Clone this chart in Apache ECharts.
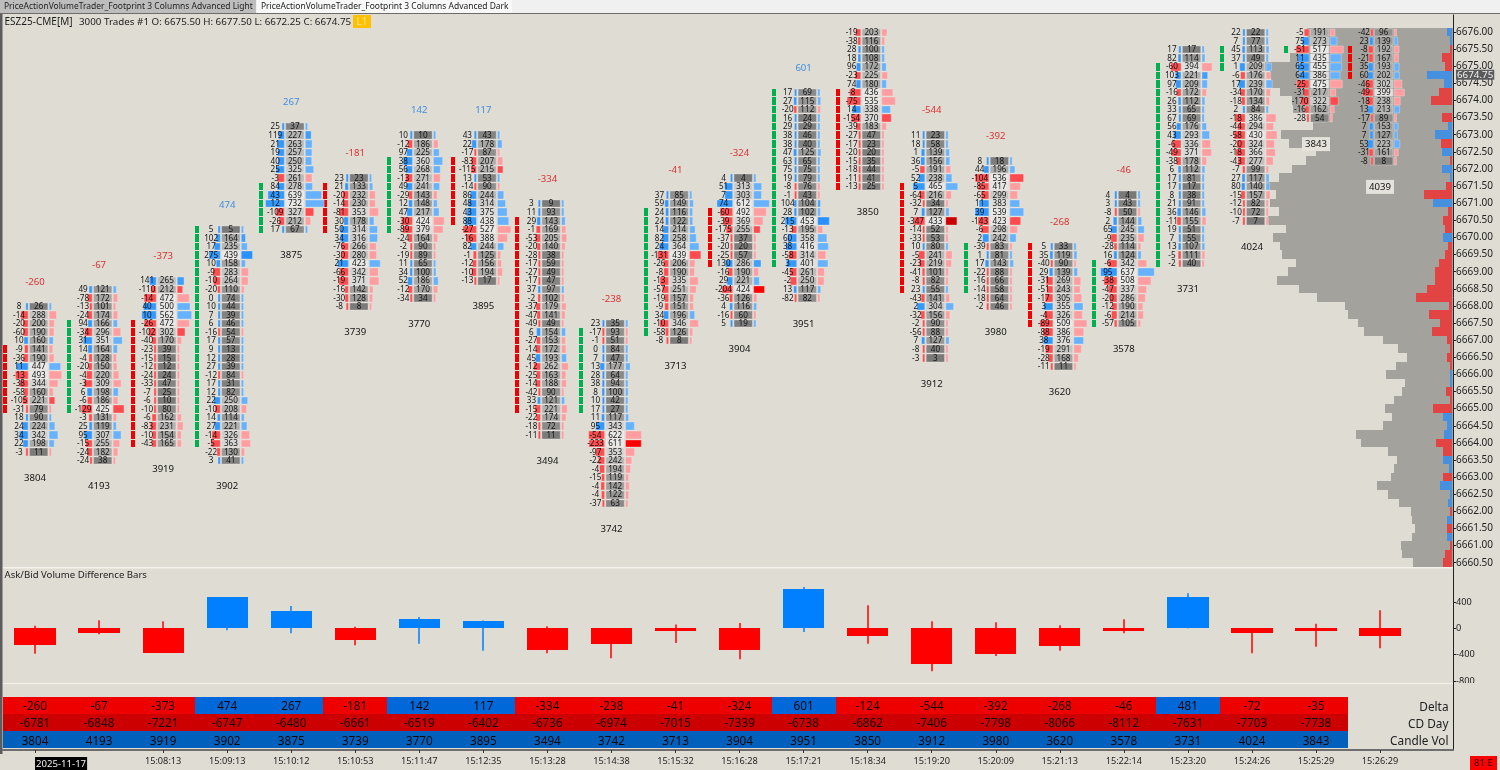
<!DOCTYPE html>
<html>
<head>
<meta charset="utf-8">
<title>ESZ25-CME footprint</title>
<style>html,body{margin:0;padding:0;background:#dfdcd4}#chart{width:1500px;height:770px}</style>
<script src="https://cdn.jsdelivr.net/npm/echarts@6/dist/echarts.min.js"></script>
</head>
<body>
<div id="chart"></div>
<script>
// Footprint rows per candle: top price of the first visible row, then delta and volume per 0.25 tick
const rowTops = [6668,6668.5,6668.75,6670.25,6673.25,6671.75,6673,6673,6671,6667.5,6671.25,6671.75,6674.25,6676,6673,6672.25,6669.75,6671.25,6675.5,6676,6676,6676];
const rowDeltas = [
  [8,-14,-20,-60,10,-9,-36,11,-13,-38,-58,-105,-31,18,24,34,22,-3],
  [49,-78,-13,-24,94,-34,31,14,-4,-20,-4,-3,6,-6,-129,-3,25,95,-15,-24,-24],
  [141,-110,-14,40,10,-26,-102,-40,-23,-15,-12,-24,-33,-7,-6,-10,-6,-83,-10,-43],
  [5,102,17,275,10,-9,-10,-20,0,10,7,6,-16,17,9,12,27,-12,17,12,22,-10,14,27,-14,-5,-22,3],
  [25,119,21,19,40,25,-3,84,43,12,-109,-26,17],
  [23,21,-20,-14,-81,30,50,34,-76,-30,21,-66,-19,-16,-30,-8],
  [10,-12,97,38,56,-13,49,-29,12,47,-30,-89,-24,-2,-19,11,34,52,-12,-34],
  [43,22,-17,-83,-115,13,-14,86,48,43,88,-27,-16,82,-1,-12,-10,-13],
  [3,11,29,-1,-53,-20,-28,-17,-27,-17,37,-2,-37,-47,-49,6,-27,-14,45,-12,-25,-14,-42,33,-15,-22,-18,-11],
  [23,-17,-1,0,7,13,28,38,8,10,17,11,95,-54,-233,-97,-22,-4,-15,-4,-4,-37],
  [37,59,24,24,14,82,24,-131,-26,-8,-13,-57,-19,-9,34,-10,-58,-8],
  [4,51,7,74,-60,-39,-175,-37,-20,-25,130,-16,29,-204,-36,4,-16,5],
  [17,27,-20,16,29,38,38,47,63,75,19,-8,-1,104,28,215,-13,60,38,-58,3,-45,-2,13,-82],
  [-19,-38,28,18,96,-23,74,-8,-75,14,-154,-39,-27,-17,-20,-15,-18,-11,-13],
  [11,18,1,36,-5,52,5,-64,-32,7,-347,-14,-33,10,-5,-23,-41,-8,23,-43,2,-32,-2,-56,7,-8,-3],
  [8,44,-104,-85,-65,11,39,-143,-6,2,-39,1,17,-22,-16,-14,-18,-2],
  [5,35,-40,29,-31,-51,-17,3,-4,-89,-88,38,-19,-28,-11],
  [4,3,-8,2,65,-9,-28,16,-6,95,-38,-47,-20,-12,-6,-57],
  [17,82,-60,103,97,-16,26,33,67,56,43,-6,-49,-38,6,17,17,8,21,36,-11,19,7,13,-5,-2],
  [22,7,45,37,1,-6,17,-34,-18,2,-18,-44,-58,-20,-18,-43,-7,27,80,-15,-12,-10,-7],
  [-5,75,-51,11,65,64,-25,-31,-170,-16,-28],
  [-42,23,-8,-21,35,60,-46,-49,-18,13,-17,7,7,53,-31,-8]
];
const rowVolumes = [
  [26,288,200,190,160,141,190,447,493,344,160,221,79,90,224,342,198,11],
  [121,172,101,174,166,296,351,164,128,150,220,309,198,186,425,131,119,307,255,182,38],
  [265,212,472,500,562,472,302,170,39,15,12,24,47,25,10,80,162,231,154,165],
  [5,164,235,439,158,283,264,110,74,44,39,46,54,57,13,28,39,84,31,82,250,208,114,221,326,363,130,41],
  [37,227,263,257,250,325,261,278,639,732,327,212,67],
  [23,133,232,230,353,178,314,316,266,280,423,342,371,142,128,8],
  [10,186,225,360,268,271,241,143,148,217,424,379,164,90,89,65,100,186,170,34],
  [43,178,87,207,215,53,90,244,314,375,438,527,388,244,125,156,194,17],
  [9,93,143,169,205,140,38,59,49,47,97,102,179,141,49,154,153,172,193,262,163,188,90,121,221,174,72,11],
  [35,93,51,84,47,177,64,94,100,42,27,117,343,622,611,353,242,194,119,142,122,63],
  [85,149,116,122,214,258,364,439,206,190,335,251,157,151,196,346,126,8],
  [4,313,303,612,492,369,255,37,20,57,286,190,221,424,126,116,60,19],
  [69,115,112,24,29,46,40,125,65,75,79,76,43,104,102,453,195,358,416,314,401,261,250,117,82],
  [203,116,100,108,172,225,180,436,535,338,370,183,47,23,20,35,44,41,25],
  [23,58,139,156,191,238,465,216,34,127,433,52,53,80,241,219,101,82,55,141,304,156,90,88,127,40,3],
  [18,196,536,417,299,383,539,423,298,242,83,81,143,88,66,58,64,46],
  [33,119,90,139,269,243,305,355,326,509,386,376,291,168,11],
  [4,43,50,144,245,235,114,124,342,637,508,337,286,190,214,105],
  [17,114,394,221,209,172,112,65,69,176,293,336,371,178,112,81,17,38,91,146,155,51,55,107,111,40],
  [22,77,113,49,209,176,239,170,134,84,386,294,430,324,366,277,99,117,140,157,82,72,7],
  [191,273,517,435,455,386,475,217,322,162,54],
  [96,139,192,167,193,202,302,399,238,213,89,153,127,223,161,8]
];

// Candle body beside each footprint: upper price, lower price, direction
const bodyTops = [6666.75,6667.5,6667.5,6670.25,6671.5,6671.5,6672.25,6672.25,6670.5,6667.25,6670.75,6670.75,6674.25,6674.25,6671.5,6669.75,6669.75,6669.25,6675,6675.5,6675.5,6675.5];
const bodyBottoms = [6665,6665,6664,6664,6670.25,6670.25,6670.25,6670.5,6665,6665,6667.25,6669.25,6669.25,6671.5,6668.5,6668.5,6667.5,6667.5,6669.25,6675,6675.5,6674.75];
const bodyUp = [0,1,0,1,1,0,1,0,0,1,1,0,1,0,0,1,0,1,1,1,1,0];

// Per-candle totals
const candleDelta = [-260,-67,-373,474,267,-181,142,117,-334,-238,-41,-324,601,-124,-544,-392,-268,-46,481,-72,-35,-111];
const cdDay = [-6781,-6848,-7221,-6747,-6480,-6661,-6519,-6402,-6736,-6974,-7015,-7339,-6738,-6862,-7406,-7798,-8066,-8112,-7631,-7703,-7738];
const candleVol = [3804,4193,3919,3902,3875,3739,3770,3895,3494,3742,3713,3904,3951,3850,3912,3980,3620,3578,3731,4024,3843,4039];
const deltaHigh = [40,122,106,474,340,25,172,117,30,0,56,81,629,350,106,91,45,137,532,0,71,274];
const deltaLow = [-385,-91,-373,-30,-76,-258,-233,-340,-380,-456,-223,-471,-56,-233,-654,-420,-340,-76,0,-380,-279,-304];

// Session volume profile, one value per tick from 6676.00 down to 6660.50
const profileVolume = [5840,5840,5840,6520,7520,7320,7280,6920,6440,6400,5600,5600,6880,6560,5480,5880,6440,6960,7480,7080,7320,6960,7400,6680,7200,6920,6840,6280,6600,7040,6160,5440,4320,4200,3800,3560,2800,2200,1840,2280,2680,1920,2040,2360,2720,2440,2800,3880,3680,2600,2240,2360,2480,3040,2600,2160,1680,1640,1520,1640,2080,2040,1600];
const profileDelta = [200,92,-92,-388,-292,1012,320,-532,-852,0,-388,160,692,-440,412,-92,388,92,-228,-1132,772,-148,-348,-292,372,-160,-292,-508,-692,-692,-988,-1428,-120,-920,-480,-800,-188,-92,-212,-92,92,92,-252,-92,-748,372,212,308,-652,-348,348,132,-348,468,92,160,-92,188,-188,188,-92,-280,-372];

const timeLabels = ['2025-11-17','','15:08:13','15:09:13','15:10:12','15:10:53','15:11:47','15:12:35','15:13:28','15:14:38','15:15:32','15:16:28','15:17:21','15:18:34','15:19:20','15:20:09','15:21:13','15:22:14','15:23:20','15:24:26','15:25:29','15:26:29'];
const priceTicks = [6676,6675.5,6675,6674.5,6674,6673.5,6673,6672.5,6672,6671.5,6671,6670.5,6670,6669.5,6669,6668.5,6668,6667.5,6667,6666.5,6666,6665.5,6665,6664.5,6664,6663.5,6663,6662.5,6662,6661.5,6661,6660.5];
const deltaTicks = [400,0,-400,-800];
const tableRowNames = ['Delta','CD Day','Candle Vol'];
const lastPrice = 6674.75;

const FONT = '"Noto Sans", sans-serif';
const BG = '#dfdcd4';
const TEXT = '#141414';
const TICK = 0.25;

const footprintRows = [];
rowDeltas.forEach((deltas, bar) => deltas.forEach((d, k) => {
  footprintRows.push([bar, rowTops[bar] - k * TICK, d, rowVolumes[bar][k]]);
}));
const bodyRows = [];
bodyTops.forEach((top, bar) => {
  for (let p = top; p >= bodyBottoms[bar]; p -= TICK) bodyRows.push([bar, p, bodyUp[bar]]);
});
const profileRows = profileVolume.map((v, k) => [v, 6676 - k * TICK]);
const profileDeltaRows = profileDelta.map((v, k) => [Math.abs(v), 6676 - k * TICK, v]);

const cellGray = v => {
  const g = Math.round(120 + Math.min(v, 430) * 0.26);
  return `rgb(${g},${g},${g-1})`;
};
const sideColor = d => {
  const a = Math.abs(d);
  if (d >= 0) return a >= 200 ? '#2a90ff' : a >= 100 ? '#3f9fff' : '#66b2ff';
  return a >= 300 ? '#cc0000' : a >= 200 ? '#ff0000' : a >= 100 ? '#ff4a4f' : '#ff9da1';
};
const rectEl = (x, y, w, h, fill, stroke) => ({
  type: 'rect', shape: { x, y, width: w, height: h },
  style: { fill, stroke: stroke || null, lineWidth: stroke ? 1 : 0 }
});
// Rectangle snapped to whole pixels so neighbouring cells join without seams
const snapRect = (x0, y0, x1, y1, fill) => {
  const l = Math.round(x0), t = Math.round(y0);
  return rectEl(l, t, Math.round(x1) - l, Math.round(y1) - t, fill);
};
const textEl = (x, y, text, size, fill, align, extra) => ({
  type: 'text',
  style: Object.assign({ x, y, text: String(text), fontSize: size, fontFamily: FONT, fill, align: align || 'center', verticalAlign: 'middle' }, extra || {})
});
// Condensed number used inside the footprint rows
const rowText = (x, y, text) => ({
  type: 'text', x, y, scaleX: 0.84,
  style: { x: 0, y: 0, text: String(text), fontSize: 9.7, fontFamily: FONT, fill: TEXT, align: 'center', verticalAlign: 'middle' }
});

// One footprint row: delta bar and number, shaded volume cell, volume bar
function renderRow(params, api) {
  const bar = api.value(0), price = api.value(1), d = api.value(2), v = api.value(3);
  const [cx, cy] = api.coord([bar, price]);
  const size = api.size([0, TICK])[1];
  const top = Math.round(cy - size / 2) + 1;
  const h = Math.round(cy + size / 2) - top;
  const w = Math.max(2.3, v / 39);
  const c = d >= 0 ? '#3399ff' : '#ff4d50';
  return {
    type: 'group',
    children: [
      rectEl(cx - 6.9 - w, top, w, h, c, 'rgba(238,236,230,0.35)'),
      rectEl(cx - 5.5, top, 18.3, h, cellGray(v), 'rgba(235,233,228,0.35)'),
      rectEl(cx + 14.1, top, w, h, sideColor(d), 'rgba(238,236,230,0.35)'),
      rowText(cx - 16, cy + 0.5, d),
      rowText(cx + 3.7, cy + 0.5, v)
    ]
  };
}
function renderBody(params, api) {
  const [cx, cy] = api.coord([api.value(0), api.value(1)]);
  const size = api.size([0, TICK])[1];
  const top = Math.round(cy - size / 2) + 1;
  return rectEl(Math.round(cx - 32), top, 4, Math.round(cy + size / 2) - top, api.value(2) ? '#00b050' : '#f00000');
}
// Totals written above and below each footprint
function renderTotals(params, api) {
  const bar = api.value(0);
  const x = api.coord([bar, 0])[0];
  const rows = rowDeltas[bar].length;
  const top = rowTops[bar];
  const yTop = api.coord([0, top])[1] - 24;
  const yBot = api.coord([0, top - (rows - 1) * TICK])[1] + 26.5;
  const d = candleDelta[bar];
  const kids = [];
  if (top + 0.7 <= 6676.1) kids.push(textEl(x, yTop, d, 9.6, d >= 0 ? '#3f8fe0' : '#dc3232'));
  const box = bar >= 20 ? { backgroundColor: '#e4e2da', padding: [2, 3, 2, 3] } : {};
  kids.push(textEl(x, yBot, candleVol[bar], 9.6, TEXT, 'center', box));
  return { type: 'group', children: kids };
}
function renderProfile(params, api) {
  const [x, y] = api.coord([api.value(0), api.value(1)]);
  const right = api.coord([0, 0])[0];
  const h = api.size([0, TICK])[1];
  return snapRect(x, y - h / 2, right, y + h / 2, '#a4a29d');
}
function renderProfileDelta(params, api) {
  const [x, y] = api.coord([api.value(0), api.value(1)]);
  const right = api.coord([0, 0])[0] - 1;
  const h = api.size([0, TICK])[1];
  return snapRect(x - 1, y - h / 2, right, y + h / 2, api.value(2) >= 0 ? '#4690e0' : '#e24444');
}
function renderLast(params, api) {
  const y = api.coord([0, api.value(0)])[1];
  return textEl(params.coordSys.x + params.coordSys.width + 3, y, api.value(0).toFixed(2), 9.8, '#f0f0f0', 'left', {
    backgroundColor: '#5a5a5a', padding: [0, 1, 0, 1]
  });
}
// Lower pane: body runs from zero to the candle's delta, wick spans its extreme values
function renderDiff(params, api) {
  const bar = api.value(0), d = api.value(1);
  const x = api.coord([bar, 0])[0];
  const y0 = api.coord([bar, 0])[1];
  const y1 = api.coord([bar, d])[1];
  const yh = api.coord([bar, api.value(2)])[1];
  const yl = api.coord([bar, api.value(3)])[1];
  const c = d >= 0 ? '#0080ff' : '#ff0000';
  return {
    type: 'group',
    children: [
      rectEl(Math.round(x) - 0.75, yh, 1.5, yl - yh, c),
      snapRect(x - 20.6, Math.min(y0, y1), x + 20.6, Math.max(y0, y1), c)
    ]
  };
}
// Summary table under the panes, rows counted from the top
function renderTable(params, api) {
  const bar = api.value(0);
  const kids = [];
  const cols = [
    [candleDelta[bar], candleDelta[bar] >= 0 ? '#0068d8' : '#ef0000'],
    [cdDay[bar], '#cc0000'],
    [candleVol[bar], '#0060bb']
  ];
  const l = api.coord([bar - 0.5, 0])[0], r = api.coord([bar + 0.5, 0])[0];
  cols.forEach((col, k) => {
    const yTop = api.coord([0, k])[1], yBot = api.coord([0, k + 1])[1];
    kids.push(snapRect(l, yTop, r, yBot, col[1]));
    kids.push(textEl((l + r) / 2, (yTop + yBot) / 2 + 1.5, col[0], 11.7, '#120808'));
  });
  return { type: 'group', children: kids };
}
function renderRowNames(params, api) {
  const k = api.value(0);
  const y = (api.coord([0, k])[1] + api.coord([0, k + 1])[1]) / 2;
  return textEl(1448.5, y + 2, tableRowNames[k], 11.8, '#222222', 'right');
}

const xRange = { min: -0.5, max: 22.139 };
const hiddenX = g => Object.assign({ type: 'value', gridIndex: g, show: false }, xRange);

const option = {
  animation: false,
  backgroundColor: BG,
  textStyle: { fontFamily: FONT },
  grid: [
    { left: 3, right: 47, top: 14.88, height: 564.96 },
    { left: 3, right: 47, top: 549.34, height: 157.92 },
    { left: 3, right: 47, top: 697, height: 56 }
  ],
  xAxis: [
    hiddenX(0),
    { type: 'value', gridIndex: 0, show: false, inverse: true, min: 0, max: 58000 },
    hiddenX(1),
    Object.assign({
      type: 'value', gridIndex: 2, position: 'bottom', splitLine: { show: false },
      axisLine: { onZero: false, lineStyle: { color: '#6e6e6e', width: 2 } },
      axisTick: { length: 3, lineStyle: { color: '#333' }, customValues: timeLabels.map((t, i) => t ? i : null).filter(i => i !== null) },
      axisLabel: {
        customValues: timeLabels.map((t, i) => t ? i : null).filter(i => i !== null),
        formatter: v => timeLabels[v] === '2025-11-17' ? '{date|2025-11-17}' : timeLabels[v],
        alignMinLabel: 'left', hideOverlap: false,
        fontSize: 9.2, fontFamily: FONT, color: '#262626', margin: 7,
        rich: { date: { backgroundColor: '#000', color: '#eee', fontSize: 9.6, fontFamily: FONT, padding: [2, 1, 1, 1] } }
      }
    }, xRange)
  ],
  yAxis: [
    {
      type: 'value', gridIndex: 0, position: 'right', min: 6660, max: 6676.5, splitLine: { show: false },
      axisLine: { show: true, onZero: false, lineStyle: { color: '#222' } },
      axisTick: { show: true, length: 3, customValues: priceTicks, lineStyle: { color: '#222' } },
      axisLabel: { customValues: priceTicks, showMinLabel: true, showMaxLabel: true, formatter: v => v.toFixed(2), fontSize: 10, fontFamily: FONT, color: '#222', margin: 3 }
    },
    {
      type: 'value', gridIndex: 1, position: 'right', min: -1200, max: 1200, splitLine: { show: false },
      axisLine: { show: true, onZero: false, lineStyle: { color: '#222' } },
      axisTick: { show: true, length: 3, customValues: deltaTicks, lineStyle: { color: '#222' } },
      axisLabel: { customValues: deltaTicks, fontSize: 9.2, fontFamily: FONT, color: '#222', margin: 3 }
    },
    {
      type: 'value', gridIndex: 2, position: 'right', inverse: true, min: 0, max: 3.1, splitLine: { show: false },
      axisLine: { show: true, onZero: false, lineStyle: { color: '#222' } },
      axisTick: { show: false }, axisLabel: { show: false }
    }
  ],
  series: [
    { type: 'custom', name: 'Session volume', xAxisIndex: 1, yAxisIndex: 0, z: 1, data: profileRows, encode: { x: 0, y: 1 }, renderItem: renderProfile, silent: true },
    { type: 'custom', name: 'Session delta', xAxisIndex: 1, yAxisIndex: 0, z: 1.5, data: profileDeltaRows, encode: { x: 0, y: 1 }, renderItem: renderProfileDelta, silent: true },
    { type: 'custom', name: 'Candle body', xAxisIndex: 0, yAxisIndex: 0, z: 2, data: bodyRows, encode: { x: 0, y: 1 }, renderItem: renderBody, silent: true },
    { type: 'custom', name: 'Footprint', xAxisIndex: 0, yAxisIndex: 0, z: 3, data: footprintRows, encode: { x: 0, y: 1 }, renderItem: renderRow, silent: true },
    { type: 'custom', name: 'Totals', xAxisIndex: 0, yAxisIndex: 0, z: 4, data: candleVol.map((v, i) => [i, v]), encode: { x: 0 }, renderItem: renderTotals, silent: true },
    { type: 'custom', name: 'Last price', xAxisIndex: 0, yAxisIndex: 0, z: 6, data: [[lastPrice]], encode: { y: 0 }, renderItem: renderLast, silent: true },
    { type: 'custom', name: 'Ask/Bid Volume Difference', xAxisIndex: 2, yAxisIndex: 1, z: 3, data: candleDelta.map((d, i) => [i, d, deltaHigh[i], deltaLow[i]]), encode: { x: 0, y: 1 }, renderItem: renderDiff, silent: true },
    { type: 'custom', name: 'Table', xAxisIndex: 3, yAxisIndex: 2, z: 3, data: cdDay.map((d, i) => [i, d]), encode: { x: 0 }, renderItem: renderTable, silent: true },
    { type: 'custom', name: 'Table rows', xAxisIndex: 3, yAxisIndex: 2, z: 3, data: tableRowNames.map((n, k) => [k]), encode: { y: 0 }, renderItem: renderRowNames, silent: true }
  ],
  graphic: { elements: [
    // Tab strip and header
    { type: 'rect', z: 20, shape: { x: 0, y: 0, width: 1500, height: 13 }, style: { fill: '#f0f0f0' } },
    { type: 'rect', z: 21, shape: { x: 0, y: 0, width: 256, height: 13 }, style: { fill: '#bdbdbd' } },
    { type: 'rect', z: 21, shape: { x: 257, y: 0, width: 255, height: 13 }, style: { fill: '#f8f8f8' } },
    { type: 'rect', z: 21, shape: { x: 0, y: 13, width: 1500, height: 1 }, style: { fill: '#6c6c6c' } },
    { type: 'text', z: 22, x: 4, y: 6.5, scaleX: 0.92, style: { text: 'PriceActionVolumeTrader_Footprint 3 Columns Advanced Light', fontSize: 9.2, fontFamily: FONT, fill: '#222', verticalAlign: 'middle' } },
    { type: 'text', z: 22, x: 261, y: 6.5, scaleX: 0.92, style: { text: 'PriceActionVolumeTrader_Footprint 3 Columns Advanced Dark', fontSize: 9.2, fontFamily: FONT, fill: '#222', verticalAlign: 'middle' } },
    { type: 'text', z: 22, x: 4.5, y: 22.5, style: { text: 'ESZ25-CME[M]', fontSize: 10, fontFamily: FONT, fill: '#1c1c1c', verticalAlign: 'middle' } },
    { type: 'text', z: 22, x: 79, y: 22.5, style: { text: '3000 Trades #1 O: 6675.50 H: 6677.50 L: 6672.25 C: 6674.75', fontSize: 9.8, fontFamily: FONT, fill: '#1c1c1c', verticalAlign: 'middle' } },
    { type: 'rect', z: 22, shape: { x: 353, y: 15, width: 18, height: 13 }, style: { fill: '#ffc000' } },
    { type: 'text', z: 23, x: 362, y: 22, style: { text: 'L1', fontSize: 10, fontFamily: FONT, fill: '#f4e0a0', align: 'center', verticalAlign: 'middle' } },
    // Pane frame and separators
    { type: 'rect', z: 20, shape: { x: 0, y: 13, width: 2.5, height: 741 }, style: { fill: '#5c5c5c' } },
    { type: 'rect', z: 20, shape: { x: 3, y: 567, width: 1450, height: 1.5 }, style: { fill: '#f4f2ec' } },
    { type: 'rect', z: 20, shape: { x: 3, y: 683, width: 1450, height: 1 }, style: { fill: '#f4f2ec' } },
    { type: 'rect', z: 20, shape: { x: 1454, y: 683, width: 46, height: 69 }, style: { fill: BG } },
    { type: 'text', z: 22, x: 4.5, y: 575.5, style: { text: 'Ask/Bid Volume Difference Bars', fontSize: 9.6, fontFamily: FONT, fill: '#222', verticalAlign: 'middle' } },
    // Status badge
    { type: 'rect', z: 21, shape: { x: 1470, y: 756, width: 27, height: 14 }, style: { fill: '#ff0000' } },
    { type: 'text', z: 22, x: 1483.5, y: 763, style: { text: '81 E', fontSize: 9.6, fontFamily: FONT, fill: '#330000', align: 'center', verticalAlign: 'middle' } }
  ] }
};
echarts.init(document.getElementById('chart'), null, { renderer: 'canvas' }).setOption(option);
</script>
</body>
</html>
